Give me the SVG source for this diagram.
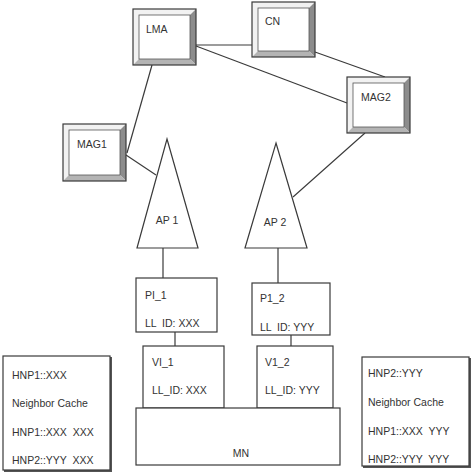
<svg xmlns="http://www.w3.org/2000/svg" width="474" height="473" viewBox="0 0 474 473">
<style>
text{font-family:"Liberation Sans",Arial,sans-serif;font-size:10.5px;fill:#333;white-space:pre}
.ln{stroke:#3a3a3a;stroke-width:1.2;fill:none}
.box{fill:#fff;stroke:#3a3a3a;stroke-width:1.2}
.tl{fill:#f2f2f2}
.rt{fill:#8c8c8c}
.bt{fill:#b4b4b4}
.inner{fill:#fff;stroke:#555;stroke-width:0.8}
.outer{fill:none;stroke:#3a3a3a;stroke-width:1.2}
</style>
<rect width="474" height="473" fill="#fff"/>
<g id="connectors">
<line class="ln" x1="196" y1="45" x2="252" y2="45"/>
<line class="ln" x1="196" y1="46" x2="347" y2="103"/>
<line class="ln" x1="315" y1="52" x2="385" y2="77"/>
<line class="ln" x1="365" y1="133" x2="293" y2="197"/>
<line class="ln" x1="152" y1="65" x2="127" y2="153"/>
<line class="ln" x1="126" y1="155" x2="156" y2="175"/>
<line class="ln" x1="163" y1="248" x2="163" y2="278"/>
<line class="ln" x1="278" y1="248" x2="278" y2="283"/>
<line class="ln" x1="175" y1="332" x2="175" y2="346"/>
<line class="ln" x1="291" y1="335" x2="291" y2="346"/>
</g>
<g id="LMA">
<polygon class="tl" points="133,9 196,9 190,15 139,15 139,59 133,65"/>
<polygon class="rt" points="196,9 196,65 190,59 190,15"/>
<polygon class="bt" points="133,65 196,65 190,59 139,59"/>
<rect class="inner" x="139" y="15" width="51" height="44"/>
<rect class="outer" x="133" y="9" width="63" height="56"/>
<text x="146" y="33">LMA</text>
</g>
<g id="CN">
<polygon class="tl" points="252,2 315,2 309,8 258,8 258,51 252,57"/>
<polygon class="rt" points="315,2 315,57 309,51 309,8"/>
<polygon class="bt" points="252,57 315,57 309,51 258,51"/>
<rect class="inner" x="258" y="8" width="51" height="43"/>
<rect class="outer" x="252" y="2" width="63" height="55"/>
<text x="265" y="25">CN</text>
</g>
<g id="MAG2">
<polygon class="tl" points="347,77 410,77 404,83 353,83 353,127 347,133"/>
<polygon class="rt" points="410,77 410,133 404,127 404,83"/>
<polygon class="bt" points="347,133 410,133 404,127 353,127"/>
<rect class="inner" x="353" y="83" width="51" height="44"/>
<rect class="outer" x="347" y="77" width="63" height="56"/>
<text x="361" y="101">MAG2</text>
</g>
<g id="MAG1">
<polygon class="tl" points="63,124 126,124 120,130 69,130 69,175 63,181"/>
<polygon class="rt" points="126,124 126,181 120,175 120,130"/>
<polygon class="bt" points="63,181 126,181 120,175 69,175"/>
<rect class="inner" x="69" y="130" width="51" height="45"/>
<rect class="outer" x="63" y="124" width="63" height="57"/>
<text x="77" y="148">MAG1</text>
</g>
<g id="AP1">
<polygon class="box" points="167,139 198,248 137,248"/>
<text x="167" y="224" text-anchor="middle">AP 1</text>
</g>
<g id="AP2">
<polygon class="box" points="276,143 307,248 245,248"/>
<text x="275" y="226" text-anchor="middle">AP 2</text>
</g>
<g id="PI_1">
<rect class="box" x="136" y="278" width="81" height="54"/>
<text x="145" y="299">PI_1</text>
<text x="145" y="327">LL  ID: XXX</text>
</g>
<g id="P1_2">
<rect class="box" x="252" y="283" width="78" height="52"/>
<text x="260" y="302">P1_2</text>
<text x="260" y="331">LL  ID: YYY</text>
</g>
<g id="VI_1">
<rect class="box" x="143" y="346" width="81" height="62"/>
<text x="152" y="366">VI_1</text>
<text x="152" y="394">LL_ID: XXX</text>
</g>
<g id="V1_2">
<rect class="box" x="257" y="346" width="76" height="62"/>
<text x="265" y="366">V1_2</text>
<text x="265" y="394">LL_ID: YYY</text>
</g>
<g id="MN">
<rect class="box" x="136" y="408" width="204" height="57"/>
<text x="241" y="457" text-anchor="middle">MN</text>
</g>
<g id="cache-left">
<rect x="4" y="357" width="108" height="115" fill="#555"/>
<rect class="box" x="3" y="356" width="107" height="114"/>
<text x="12" y="379">HNP1::XXX</text>
<text x="12" y="407">Neighbor Cache</text>
<text x="12" y="436">HNP1::XXX  XXX</text>
<text x="12" y="464">HNP2::YYY  XXX</text>
</g>
<g id="cache-right">
<rect x="363" y="358" width="108" height="110" fill="#555"/>
<rect class="box" x="362" y="357" width="107" height="109"/>
<text x="368" y="377">HNP2::YYY</text>
<text x="368" y="406">Neighbor Cache</text>
<text x="368" y="435">HNP1::XXX  YYY</text>
<text x="368" y="463">HNP2::YYY  YYY</text>
</g>
</svg>
